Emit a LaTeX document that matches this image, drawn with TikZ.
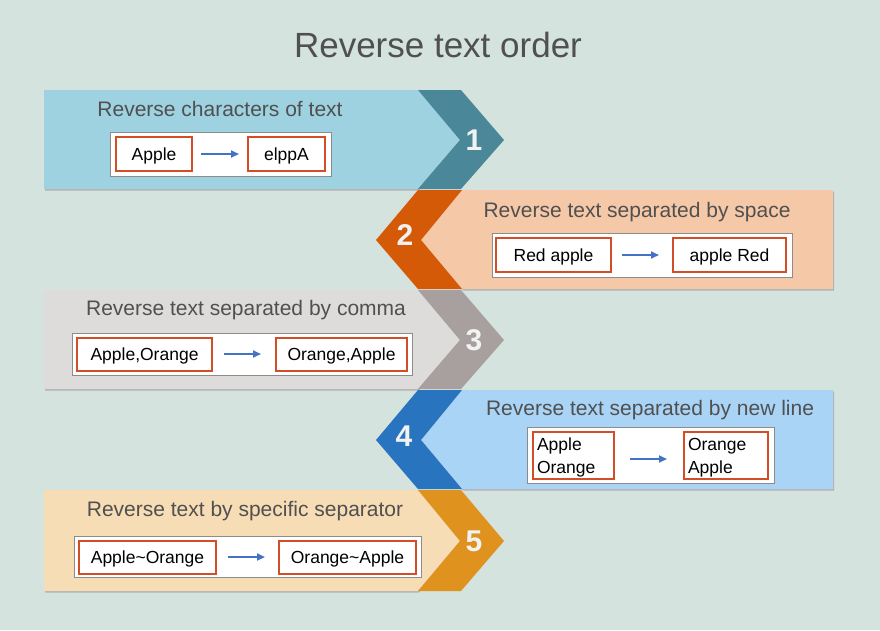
\documentclass[tikz,border=0pt]{standalone}
\usepackage{fontspec}
\setmainfont{Liberation Sans}
\usetikzlibrary{arrows.meta,shadows,calc}
\definecolor{bgcol}{HTML}{D5E3DF}
\definecolor{headcol}{HTML}{505050}
\definecolor{boxred}{HTML}{D24E26}
\definecolor{arrowblue}{HTML}{4472C4}
\definecolor{lightA}{HTML}{9ED2E0}
\definecolor{darkA}{HTML}{4A8799}
\definecolor{lightB}{HTML}{F5C8A8}
\definecolor{darkB}{HTML}{D55A08}
\definecolor{lightC}{HTML}{DDDCDA}
\definecolor{darkC}{HTML}{A8A09E}
\definecolor{lightD}{HTML}{A9D4F6}
\definecolor{darkD}{HTML}{2874BE}
\definecolor{lightE}{HTML}{F7DDB5}
\definecolor{darkE}{HTML}{E0921F}
\tikzset{
  bandshade/.style={fill=black!30, shift={(1,1.5)}},
  heading/.style={text=headcol, font=\fontsize{21}{25}\selectfont},
  panel/.style={draw=black!45, line width=0.8pt, fill=white, inner sep=0pt,
    drop shadow={shadow xshift=1pt, shadow yshift=-1pt, opacity=0.35}},
  listbox/.style={draw=boxred, line width=2pt, fill=white, inner sep=0pt,
    minimum height=34pt, font=\fontsize{17.5}{23}\selectfont},
  wordbox/.style={listbox, text height=12.6pt, text depth=0pt},
  num/.style={text=white!95!black, font=\bfseries\fontsize{30}{30}\selectfont},
  flow/.style={-{Triangle[length=8pt,width=7pt]}, line width=1.8pt, draw=arrowblue}
}
\begin{document}
\begin{tikzpicture}[x=1pt,y=-1pt]
  \useasboundingbox (0,0) rectangle (880,630);
  \fill[bgcol] (0,0) rectangle (880,630);
  \node[text=headcol, font=\fontsize{35}{40}\selectfont] (title) at (438,45) {Reverse text order};

  % band 1
  \fill[bandshade] (44,90) -- (418,90) -- (460,140) -- (418,189) -- (44,189) -- cycle;
  \fill[lightA] (44,90) -- (418,90) -- (460,140) -- (418,189) -- (44,189) -- cycle;
  \fill[darkA] (418,90) -- (461,90) -- (504,140) -- (461,189) -- (418,189) -- (460,140) -- cycle;
  % band 2
  \fill[bandshade] (462,190) -- (833,190) -- (833,289) -- (462,289) -- (421,240) -- cycle;
  \fill[lightB] (462,190) -- (833,190) -- (833,289) -- (462,289) -- (421,240) -- cycle;
  \fill[darkB] (418,190) -- (462,190) -- (421,240) -- (462,289) -- (418,289) -- (376,240) -- cycle;
  % band 3
  \fill[bandshade] (44,290) -- (418,290) -- (460,340) -- (418,389) -- (44,389) -- cycle;
  \fill[lightC] (44,290) -- (418,290) -- (460,340) -- (418,389) -- (44,389) -- cycle;
  \fill[darkC] (418,290) -- (461,290) -- (504,340) -- (461,389) -- (418,389) -- (460,340) -- cycle;
  % band 4
  \fill[bandshade] (462,390) -- (833,390) -- (833,489) -- (462,489) -- (421,440) -- cycle;
  \fill[lightD] (462,390) -- (833,390) -- (833,489) -- (462,489) -- (421,440) -- cycle;
  \fill[darkD] (418,390) -- (462,390) -- (421,440) -- (462,489) -- (418,489) -- (376,440) -- cycle;
  % band 5
  \fill[bandshade] (44,490) -- (418,490) -- (460,541) -- (418,591) -- (44,591) -- cycle;
  \fill[lightE] (44,490) -- (418,490) -- (460,541) -- (418,591) -- (44,591) -- cycle;
  \fill[darkE] (418,490) -- (461,490) -- (504,541) -- (461,591) -- (418,591) -- (460,541) -- cycle;

  \node[num] (n1) at (474,140) {1};
  \node[num] (n2) at (405,235) {2};
  \node[num] (n3) at (474,340) {3};
  \node[num] (n4) at (404,436) {4};
  \node[num] (n5) at (474,541) {5};

  \node[heading] (h1) at (220,109) {Reverse characters of text};
  \node[panel, minimum width=221pt, minimum height=44pt] (p1) at (220.5,154) {};
  \node[wordbox, minimum width=76pt] (a1) at (154,154) {Apple};
  \node[wordbox, minimum width=77pt] (b1) at (286.5,154) {elppA};
  \draw[flow, shorten <=8pt, shorten >=8pt] (a1) -- (b1);

  \node[heading] (h2) at (637,212) {Reverse text separated by space};
  \node[panel, minimum width=300pt, minimum height=44pt] (p2) at (642,255) {};
  \node[wordbox, minimum width=115pt] (a2) at (553.5,255) {Red apple};
  \node[wordbox, minimum width=113pt] (b2) at (729.5,255) {apple Red};
  \draw[flow, shorten <=10pt, shorten >=13pt] (a2) -- (b2);

  \node[heading] (h3) at (246,310) {Reverse text separated by comma};
  \node[panel, minimum width=340pt, minimum height=42pt] (p3) at (242,354) {};
  \node[wordbox, minimum width=135pt, minimum height=33pt] (a3) at (144.5,354) {Apple,Orange};
  \node[wordbox, minimum width=131pt, minimum height=33pt] (b3) at (341.5,354) {Orange,Apple};
  \draw[flow, shorten <=11pt, shorten >=14pt] (a3) -- (b3);

  \node[heading] (h4) at (650,410) {Reverse text separated by new line};
  \node[panel, minimum width=247pt, minimum height=56pt] (p4) at (650.5,455) {};
  \node[listbox, minimum height=47pt, inner xsep=4pt, text width=73pt, align=left, text depth=23pt] (a4) at (573.5,455.5) {Apple\\Orange};
  \node[listbox, minimum height=47pt, inner xsep=4pt, text width=76pt, align=left, text depth=23pt] (b4) at (726,455.5) {Orange\\Apple};
  \draw[flow, shorten <=15pt, shorten >=16pt] ($(a4.east)+(0,3.5)$) -- ($(b4.west)+(0,3.5)$);

  \node[heading] (h5) at (245,511) {Reverse text by specific separator};
  \node[panel, minimum width=347pt, minimum height=41pt] (p5) at (247.5,556.5) {};
  \node[wordbox, minimum width=137pt, minimum height=33pt] (a5) at (147.5,557) {Apple\textasciitilde Orange};
  \node[wordbox, minimum width=137pt, minimum height=33pt] (b5) at (347.5,557) {Orange\textasciitilde Apple};
  \draw[flow, shorten <=11pt, shorten >=13pt] (a5) -- (b5);
\end{tikzpicture}
\end{document}
